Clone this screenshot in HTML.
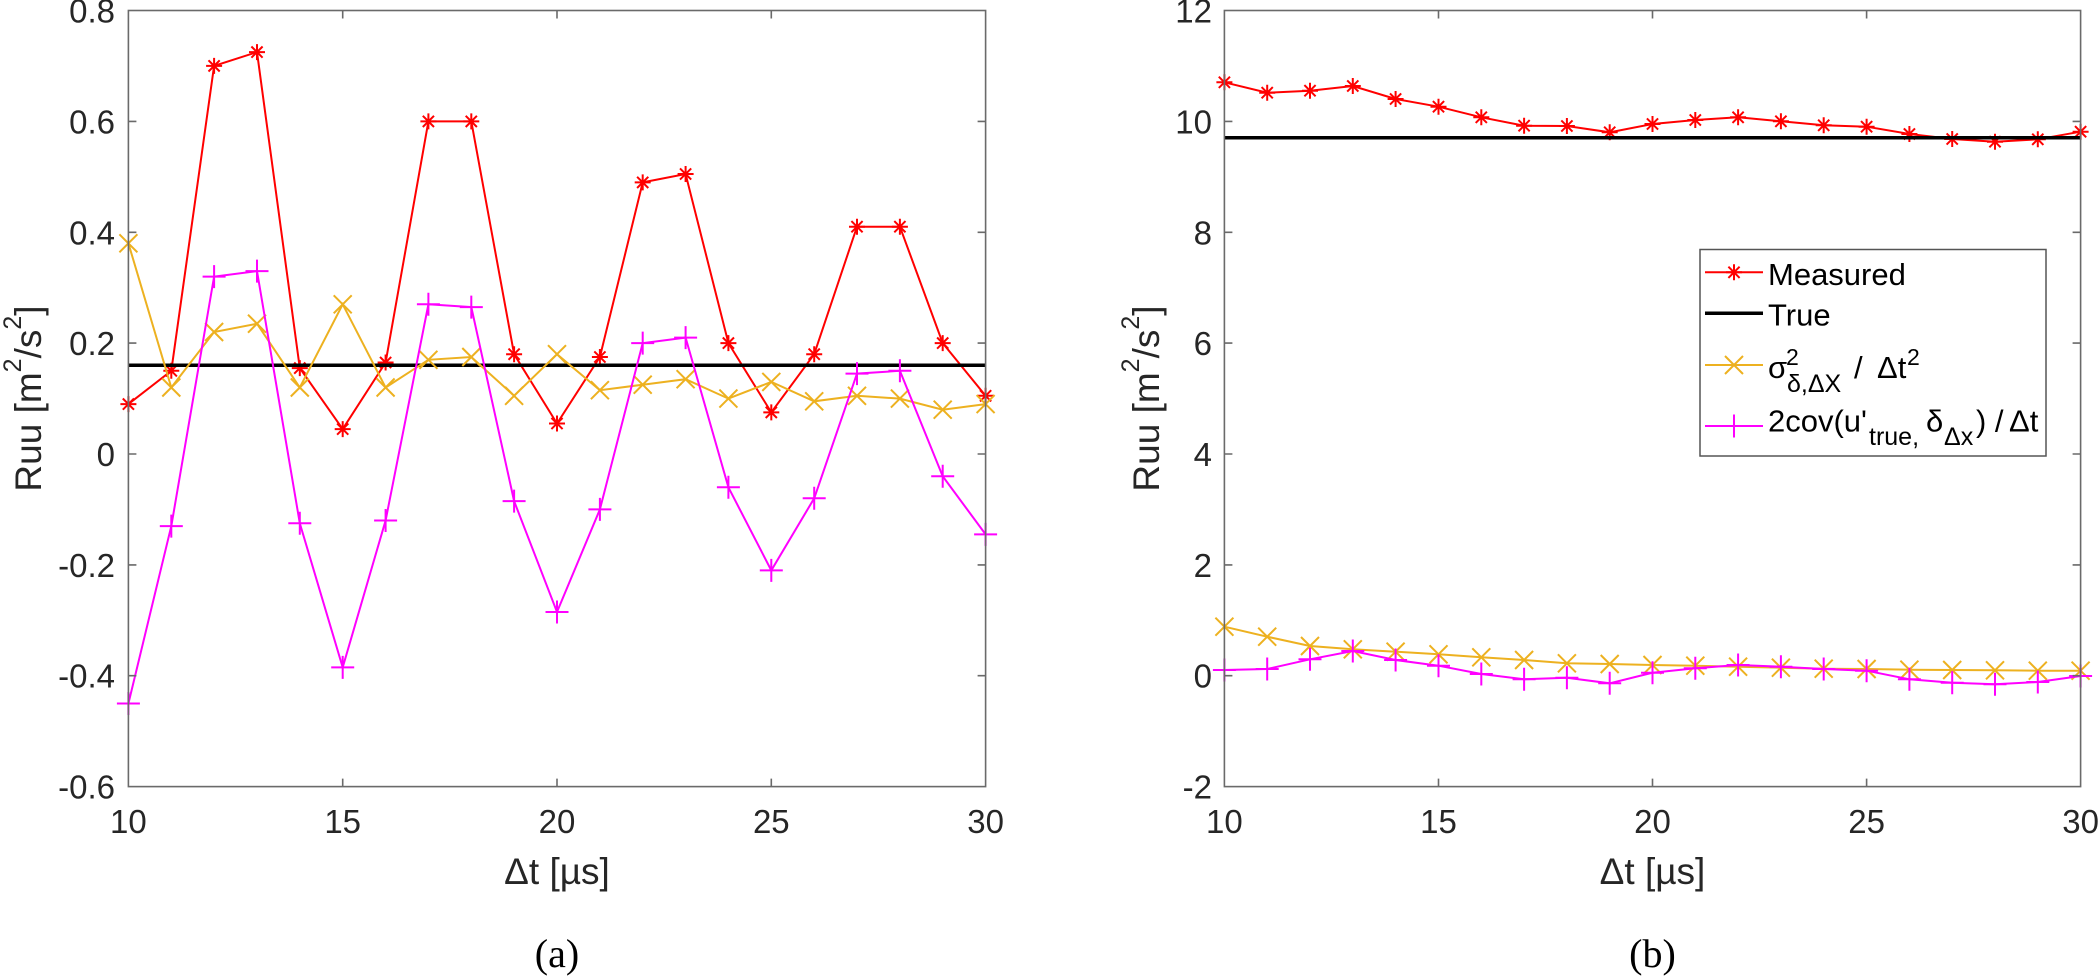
<!DOCTYPE html>
<html><head><meta charset="utf-8"><style>
html,body{margin:0;padding:0;background:#fff;}
svg{display:block;}
text{font-family:"Liberation Sans",Arial,sans-serif;fill:#262626;}
</style></head><body>
<svg width="2100" height="980" viewBox="0 0 2100 980" xmlns="http://www.w3.org/2000/svg">
<defs>
<marker id="mst" markerUnits="userSpaceOnUse" markerWidth="24" markerHeight="24" viewBox="-12 -12 24 24" refX="0" refY="0" overflow="visible"><path d="M-8,0H8M0,-8V8M-5.6,-5.6L5.6,5.6M5.6,-5.6L-5.6,5.6" stroke="#ff0000" stroke-width="2" fill="none"/></marker>
<marker id="mx" markerUnits="userSpaceOnUse" markerWidth="24" markerHeight="24" viewBox="-12 -12 24 24" refX="0" refY="0" overflow="visible"><path d="M-9,-9L9,9M9,-9L-9,9" stroke="#EDB120" stroke-width="2" fill="none"/></marker>
<marker id="mp" markerUnits="userSpaceOnUse" markerWidth="28" markerHeight="28" viewBox="-14 -14 28 28" refX="0" refY="0" overflow="visible"><path d="M-11.5,0H11.5M0,-11.5V11.5" stroke="#ff00ff" stroke-width="2" fill="none"/></marker>
</defs>
<rect x="0" y="0" width="2100" height="980" fill="#fff"/>

<!-- ===== LEFT PANEL ===== -->
<g fill="none">
<polyline stroke="#ff0000" stroke-width="2" marker-start="url(#mst)" marker-mid="url(#mst)" marker-end="url(#mst)" points="128.4,404.1 171.3,370.8 214.1,65.9 257.0,52.1 299.8,368.1 342.7,429.1 385.6,362.5 428.4,121.4 471.3,121.4 514.1,354.2 557.0,423.5 599.9,357.0 642.7,182.4 685.6,174.0 728.4,343.1 771.3,412.4 814.2,354.2 857.0,226.7 899.9,226.7 942.7,343.1 985.6,395.8"/>
<line x1="128.4" y1="365.3" x2="985.6" y2="365.3" stroke="#000" stroke-width="3.5"/>
<polyline stroke="#EDB120" stroke-width="2" marker-start="url(#mx)" marker-mid="url(#mx)" marker-end="url(#mx)" points="128.4,243.3 171.3,387.5 214.1,332.0 257.0,323.7 299.8,387.5 342.7,304.3 385.6,387.5 428.4,359.8 471.3,357.0 514.1,395.8 557.0,354.2 599.9,390.2 642.7,384.7 685.6,379.2 728.4,398.6 771.3,381.9 814.2,401.3 857.0,395.8 899.9,398.6 942.7,409.7 985.6,404.1"/>
<polyline stroke="#ff00ff" stroke-width="2" marker-start="url(#mp)" marker-mid="url(#mp)" marker-end="url(#mp)" points="128.4,703.5 171.3,526.1 214.1,276.6 257.0,271.1 299.8,523.3 342.7,667.4 385.6,520.5 428.4,304.3 471.3,307.1 514.1,501.1 557.0,612.0 599.9,509.4 642.7,343.1 685.6,337.6 728.4,487.3 771.3,570.4 814.2,498.3 857.0,373.6 899.9,370.8 942.7,476.2 985.6,534.4"/>
</g>
<g stroke="#6a6a6a" stroke-width="1.6" fill="none">
<rect x="128.4" y="10.5" width="857.2" height="776.1"/>
<path d="M342.7,786.6V778.6M557,786.6V778.6M771.3,786.6V778.6M342.7,10.5V18.5M557,10.5V18.5M771.3,10.5V18.5"/>
<path d="M128.4,121.4H136.4M128.4,232.3H136.4M128.4,343.1H136.4M128.4,454H136.4M128.4,564.9H136.4M128.4,675.7H136.4"/>
<path d="M985.6,121.4H977.6M985.6,232.3H977.6M985.6,343.1H977.6M985.6,454H977.6M985.6,564.9H977.6M985.6,675.7H977.6"/>
</g>
<g font-size="33" text-anchor="end">
<text x="115" y="22.5">0.8</text>
<text x="115" y="133.4">0.6</text>
<text x="115" y="244.3">0.4</text>
<text x="115" y="355.1">0.2</text>
<text x="115" y="466">0</text>
<text x="115" y="576.9">-0.2</text>
<text x="115" y="687.7">-0.4</text>
<text x="115" y="798.6">-0.6</text>
</g>
<g font-size="33" text-anchor="middle">
<text x="128.4" y="833">10</text>
<text x="342.7" y="833">15</text>
<text x="557" y="833">20</text>
<text x="771.3" y="833">25</text>
<text x="985.6" y="833">30</text>
</g>
<text x="557" y="884" font-size="37" text-anchor="middle">Δt [µs]</text>
<text transform="translate(41,398.5) rotate(-90)" font-size="37" text-anchor="middle"><tspan>Ruu [m</tspan><tspan font-size="25" dy="-20">2</tspan><tspan dy="20">/s</tspan><tspan font-size="25" dy="-20">2</tspan><tspan dy="20">]</tspan></text>
<text x="557" y="967" font-size="40" text-anchor="middle" style="font-family:'Liberation Serif','Times New Roman',serif;fill:#000">(a)</text>

<!-- ===== RIGHT PANEL ===== -->
<g fill="none">
<polyline stroke="#ff0000" stroke-width="2" marker-start="url(#mst)" marker-mid="url(#mst)" marker-end="url(#mst)" points="1224.4,82.3 1267.2,92.7 1310.0,90.7 1352.8,86.0 1395.6,99.0 1438.5,106.7 1481.3,117.3 1524.1,125.7 1566.9,126.0 1609.7,132.3 1652.5,124.0 1695.3,120.0 1738.1,117.3 1780.9,121.3 1823.7,125.3 1866.6,126.7 1909.4,134.0 1952.2,139.0 1995.0,141.7 2037.8,139.3 2080.6,131.7"/>
<line x1="1224.4" y1="137.8" x2="2080.6" y2="137.8" stroke="#000" stroke-width="3.5"/>
<polyline stroke="#EDB120" stroke-width="2" marker-start="url(#mx)" marker-mid="url(#mx)" marker-end="url(#mx)" points="1224.4,626.7 1267.2,636.7 1310.0,646.0 1352.8,649.3 1395.6,651.7 1438.5,654.3 1481.3,657.3 1524.1,660.0 1566.9,663.3 1609.7,664.0 1652.5,665.0 1695.3,665.7 1738.1,666.7 1780.9,667.7 1823.7,668.7 1866.6,669.0 1909.4,669.7 1952.2,670.0 1995.0,670.3 2037.8,670.7 2080.6,670.7"/>
<polyline stroke="#ff00ff" stroke-width="2" marker-start="url(#mp)" marker-mid="url(#mp)" marker-end="url(#mp)" points="1224.4,670.0 1267.2,669.0 1310.0,659.3 1352.8,651.0 1395.6,660.0 1438.5,665.7 1481.3,674.0 1524.1,679.3 1566.9,677.7 1609.7,683.3 1652.5,672.7 1695.3,668.3 1738.1,665.0 1780.9,666.7 1823.7,669.0 1866.6,670.7 1909.4,679.3 1952.2,682.7 1995.0,684.3 2037.8,682.0 2080.6,676.0"/>
</g>
<g stroke="#6a6a6a" stroke-width="1.6" fill="none">
<rect x="1224.4" y="10.5" width="856.2" height="776.1"/>
<path d="M1438.5,786.6V778.6M1652.5,786.6V778.6M1866.6,786.6V778.6M1438.5,10.5V18.5M1652.5,10.5V18.5M1866.6,10.5V18.5"/>
<path d="M1224.4,121.4H1232.4M1224.4,232.3H1232.4M1224.4,343.1H1232.4M1224.4,454H1232.4M1224.4,564.9H1232.4M1224.4,675.7H1232.4"/>
<path d="M2080.6,121.4H2072.6M2080.6,232.3H2072.6M2080.6,343.1H2072.6M2080.6,454H2072.6M2080.6,564.9H2072.6M2080.6,675.7H2072.6"/>
</g>
<g font-size="33" text-anchor="end">
<text x="1212" y="22.5">12</text>
<text x="1212" y="133.4">10</text>
<text x="1212" y="244.3">8</text>
<text x="1212" y="355.1">6</text>
<text x="1212" y="466">4</text>
<text x="1212" y="576.9">2</text>
<text x="1212" y="687.7">0</text>
<text x="1212" y="798.6">-2</text>
</g>
<g font-size="33" text-anchor="middle">
<text x="1224.4" y="833">10</text>
<text x="1438.5" y="833">15</text>
<text x="1652.5" y="833">20</text>
<text x="1866.6" y="833">25</text>
<text x="2080.6" y="833">30</text>
</g>
<text x="1652.5" y="884" font-size="37" text-anchor="middle">Δt [µs]</text>
<text transform="translate(1159,398.5) rotate(-90)" font-size="37" text-anchor="middle"><tspan>Ruu [m</tspan><tspan font-size="25" dy="-20">2</tspan><tspan dy="20">/s</tspan><tspan font-size="25" dy="-20">2</tspan><tspan dy="20">]</tspan></text>
<text x="1652.5" y="967" font-size="40" text-anchor="middle" style="font-family:'Liberation Serif','Times New Roman',serif;fill:#000">(b)</text>

<!-- ===== LEGEND ===== -->
<rect x="1700" y="249.5" width="346" height="206.5" fill="#fff" stroke="#555" stroke-width="1.5"/>
<g fill="none">
<polyline points="1705,272.3 1734,272.3 1763,272.3" stroke="#ff0000" stroke-width="2" marker-mid="url(#mst)"/>
<line x1="1705" y1="313.3" x2="1763" y2="313.3" stroke="#000" stroke-width="3.5"/>
<polyline points="1705,365 1734,365 1763,365" stroke="#EDB120" stroke-width="2" marker-mid="url(#mx)"/>
<polyline points="1705,426 1734,426 1763,426" stroke="#ff00ff" stroke-width="2" marker-mid="url(#mp)"/>
</g>
<g style="fill:#000">
<text x="1768" y="285" font-size="31" style="fill:#000">Measured</text>
<text x="1768" y="325.7" font-size="31" style="fill:#000">True</text>
<text x="1768" y="378" font-size="31" style="fill:#000">σ</text>
<text x="1786" y="365" font-size="23" style="fill:#000">2</text>
<text x="1787" y="392" font-size="25" style="fill:#000">δ,ΔX</text>
<text x="1854" y="378" font-size="31" style="fill:#000">/</text>
<text x="1877" y="378" font-size="31" style="fill:#000">Δt</text>
<text x="1907" y="365" font-size="23" style="fill:#000">2</text>
<text x="1768" y="431.7" font-size="31" style="fill:#000">2cov(u'</text>
<text x="1869" y="445" font-size="25" style="fill:#000">true,</text>
<text x="1926" y="431.7" font-size="31" style="fill:#000">δ</text>
<text x="1944" y="445" font-size="25" style="fill:#000">Δx</text>
<text x="1976" y="431.7" font-size="31" style="fill:#000">) /</text>
<text x="2009" y="431.7" font-size="31" style="fill:#000">Δt</text>
</g>
</svg>
</body></html>
